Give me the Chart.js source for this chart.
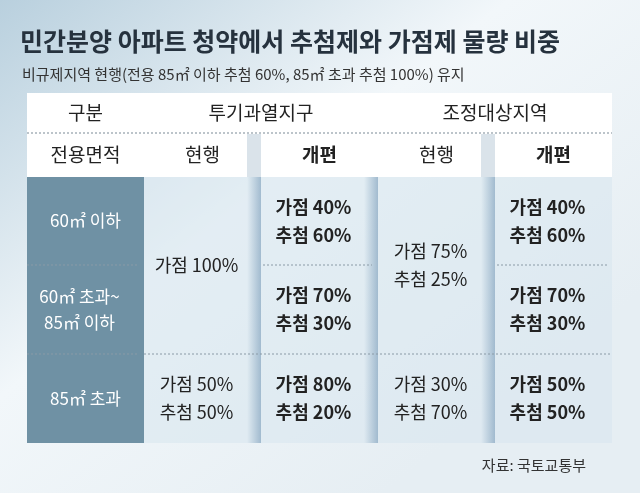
<!DOCTYPE html>
<html><head><meta charset="utf-8">
<script src="https://cdn.jsdelivr.net/npm/chart.js@4/dist/chart.umd.min.js"></script>
<style>html,body{margin:0;padding:0;}canvas{display:block}</style>
</head><body>
<div style="width:640px;height:493px"><canvas id="c"></canvas></div>
<script>
const titleText = '민간분양 아파트 청약에서 추첨제와 가점제 물량 비중';
const subtitleText = '비규제지역 현행(전용 85㎡ 이하 추첨 60%, 85㎡ 초과 추첨 100%) 유지';
const sourceText = '자료: 국토교통부';
const groupHeaders = ['구분', '투기과열지구', '조정대상지역'];
const subHeaders = ['전용면적', '현행', '개편', '현행', '개편'];
const areaLabels = [['60㎡ 이하'], ['60㎡ 초과~', '85㎡ 이하'], ['85㎡ 초과']];
const tugiCurrent = [[100, null], [100, null], [50, 50]];
const tugiNew = [[40, 60], [70, 30], [80, 20]];
const jojeongCurrent = [[75, 25], [75, 25], [30, 70]];
const jojeongNew = [[40, 60], [70, 30], [50, 50]];

const FONT = '"Noto Sans CJK KR","Noto Sans",sans-serif';
const rowEdges = [0, 40, 84, 172, 261, 350];

function lines(v){ return v[1]==null ? ['가점 '+v[0]+'%'] : ['가점 '+v[0]+'%','추첨 '+v[1]+'%']; }

const tablePlugin = {
  id:'table',
  beforeDraw(chart){
    const ctx=chart.ctx, W=chart.width, H=chart.height;
    const g=ctx.createLinearGradient(0,0,W*0.6,H);
    g.addColorStop(0,'#b9d0de'); g.addColorStop(0.5,'#f2f7fa'); g.addColorStop(1,'#e6eef3');
    ctx.fillStyle=g; ctx.fillRect(0,0,W,H);
  },
  afterDraw(chart){
    const ctx=chart.ctx, xs=chart.scales.x, ys=chart.scales.y;
    const X=v=>xs.getPixelForValue(v), Y=v=>ys.getPixelForValue(v);
    ctx.save();
    ctx.fillStyle='#26323e'; ctx.font='bold 25px '+FONT; ctx.textBaseline='middle'; ctx.textAlign='left';
    ctx.fillText(titleText, 20, 41);
    ctx.fillStyle='#333'; ctx.font='15px '+FONT;
    ctx.fillText(subtitleText, 22, 74);
    ctx.fillStyle='#ffffff'; ctx.fillRect(X(0),Y(0),X(5)-X(0),Y(84)-Y(0));
    ctx.fillStyle='rgba(215,230,238,0.55)'; ctx.fillRect(X(1),Y(84),X(5)-X(1),Y(350)-Y(84));
    ctx.fillStyle='#6f91a4'; ctx.fillRect(X(0),Y(84),X(1)-X(0),Y(350)-Y(84));
    [2,3,4].forEach(c=>{
      const x=X(c);
      const sg=ctx.createLinearGradient(x-14,0,x,0);
      sg.addColorStop(0,'rgba(140,170,195,0)'); sg.addColorStop(1,'rgba(140,170,195,0.75)');
      ctx.fillStyle=sg; ctx.fillRect(x-14,Y(84),14,Y(350)-Y(84));
    });
    [2,4].forEach(c=>{ctx.fillStyle='rgba(150,175,195,0.35)';ctx.fillRect(X(c)-14,Y(40)+1,14,Y(84)-Y(40)-1);});
    ctx.setLineDash([2,2]); ctx.strokeStyle='#7a8a96'; ctx.lineWidth=1;
    ctx.beginPath(); ctx.moveTo(X(0),Y(40)); ctx.lineTo(X(5),Y(40)); ctx.stroke();
    ctx.strokeStyle='#8a9aa6';
    ctx.beginPath();
    [172,261].forEach((r,i)=>{
      ctx.moveTo(X(0),Y(r)); ctx.lineTo(X(1)-6,Y(r));
      if(i===0){ ctx.moveTo(X(2)+2,Y(r)); ctx.lineTo(X(3)-6,Y(r)); ctx.moveTo(X(4)+2,Y(r)); ctx.lineTo(X(5)-4,Y(r)); }
      else { ctx.moveTo(X(1),Y(r)); ctx.lineTo(X(5),Y(r)); }
    });
    ctx.stroke(); ctx.setLineDash([]);
    ctx.textAlign='center'; ctx.fillStyle='#222'; ctx.font='19px '+FONT;
    const midY=(a,b)=>(Y(a)+Y(b))/2;
    ctx.fillText(groupHeaders[0],(X(0)+X(1))/2,midY(0,40));
    ctx.fillText(groupHeaders[1],(X(1)+X(3))/2,midY(0,40));
    ctx.fillText(groupHeaders[2],(X(3)+X(5))/2,midY(0,40));
    subHeaders.forEach((h,i)=>{
      ctx.font=(h==='개편'?'bold ':'')+'19px '+FONT;
      ctx.fillText(h,(X(i)+X(i+1))/2,midY(40,84));
    });
    ctx.fillStyle='#ffffff'; ctx.font='17px '+FONT;
    areaLabels.forEach((ls,r)=>{
      const cy=midY(rowEdges[r+2],rowEdges[r+3]);
      ls.forEach((t,k)=>ctx.fillText(t,(X(0)+X(1))/2 - (ls.length>1?6:0),cy+(k-(ls.length-1)/2)*26));
    });
    function cell(col,r0,r1,ls,bold){
      ctx.fillStyle='#222'; ctx.font=(bold?'bold ':'')+'18px '+FONT;
      const cx=(X(col)+X(col+1))/2 - 6, cy=midY(rowEdges[r0],rowEdges[r1]);
      ls.forEach((t,k)=>ctx.fillText(t,cx,cy+(k-(ls.length-1)/2)*28));
    }
    cell(1,2,4,lines(tugiCurrent[0]),false);
    cell(1,4,5,lines(tugiCurrent[2]),false);
    cell(3,2,4,lines(jojeongCurrent[0]),false);
    cell(3,4,5,lines(jojeongCurrent[2]),false);
    tugiNew.forEach((v,r)=>cell(2,r+2,r+3,lines(v),true));
    jojeongNew.forEach((v,r)=>cell(4,r+2,r+3,lines(v),true));
    ctx.textAlign='right'; ctx.fillStyle='#333'; ctx.font='15px '+FONT;
    ctx.fillText(sourceText, 586, 465);
    ctx.restore();
  }
};

new Chart(document.getElementById('c'),{
  type:'scatter',
  data:{datasets:[{data:[],pointRadius:0}]},
  options:{
    responsive:true, maintainAspectRatio:false, animation:false,
    layout:{padding:{left:27,right:28,top:93,bottom:50}},
    plugins:{legend:{display:false},tooltip:{enabled:false}},
    scales:{
      x:{type:'linear',min:0,max:5,display:false},
      y:{type:'linear',min:0,max:350,reverse:true,display:false}
    }
  },
  plugins:[tablePlugin]
});
</script>
</body></html>
